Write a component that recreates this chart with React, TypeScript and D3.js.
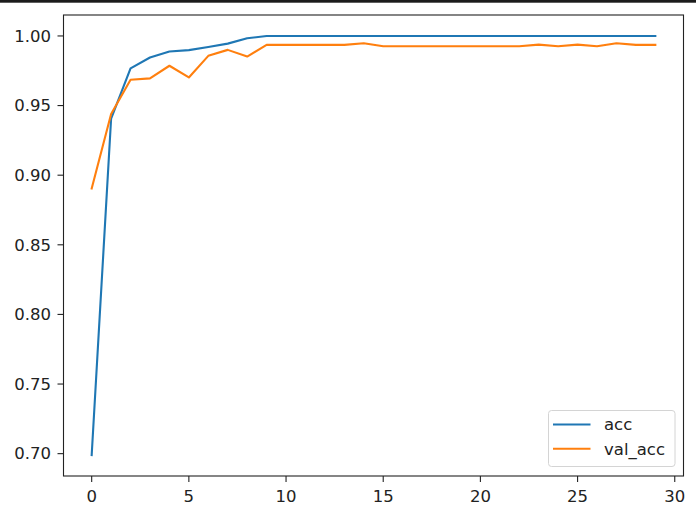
import React from "react";
import * as d3 from "d3";

const epochs: number[] = d3.range(30);
const acc: number[] = [
  0.699, 0.9407, 0.9767, 0.9845, 0.9888, 0.9898, 0.9921, 0.9945, 0.9983, 1.0,
  1.0, 1.0, 1.0, 1.0, 1.0, 1.0, 1.0, 1.0, 1.0, 1.0,
  1.0, 1.0, 1.0, 1.0, 1.0, 1.0, 1.0, 1.0, 1.0, 1.0,
];
const valAcc: number[] = [
  0.8905, 0.944, 0.9686, 0.9695, 0.9786, 0.9702, 0.9857, 0.990, 0.9852, 0.9936,
  0.9936, 0.9936, 0.9936, 0.9936, 0.9948, 0.9926, 0.9926, 0.9926, 0.9926, 0.9926,
  0.9926, 0.9926, 0.9926, 0.9938, 0.9926, 0.9938, 0.9926, 0.9948, 0.9936, 0.9936,
];
const xTicks: number[] = [0, 5, 10, 15, 20, 25, 30];
const yTicks: number[] = [0.7, 0.75, 0.8, 0.85, 0.9, 0.95, 1.0];
const seriesNames: string[] = ["acc", "val_acc"];
const colors: string[] = ["#1f77b4", "#ff7f0e"];

const W = 696;
const H = 518;
const left = 63.5;
const right = 683.5;
const top = 15;
const bottom = 476;
const FONT = "DejaVu Sans, sans-serif";
const FS = 16.5;

export default function App() {
  const x = d3.scaleLinear().domain([-1.45, 30.45]).range([left, right]);
  const yMin = 0.699, yMax = 1.0;
  const pad = (yMax - yMin) * 0.05;
  const y = d3.scaleLinear().domain([yMin - pad, yMax + pad]).range([bottom, top]);
  const line = d3
    .line<number>()
    .x((_, i) => x(epochs[i]))
    .y((d) => y(d));
  const series = [acc, valAcc];
  const lx = 548.5, ly = 410.5, lw = 126.5, lh = 56;

  return (
    <svg
      width={W}
      height={H}
      style={{ position: "absolute", left: 0, top: 0, background: "#fff" }}
      fontFamily={FONT}
    >
      <rect x={0} y={0} width={W} height={H} fill="#fff" />
      <rect x={0} y={0} width={W} height={2.7} fill="#1b1b1b" />
      {series.map((s, k) => (
        <path
          key={k}
          d={line(s) || ""}
          fill="none"
          stroke={colors[k]}
          strokeWidth={2.1}
          strokeLinejoin="round"
          strokeLinecap="square"
        />
      ))}
      <rect
        x={left}
        y={top}
        width={right - left}
        height={bottom - top}
        fill="none"
        stroke="#222"
        strokeWidth={1.1}
      />
      {xTicks.map((t) => (
        <g key={t} transform={`translate(${x(t)},${bottom})`}>
          <line y1={0} y2={6} stroke="#222" strokeWidth={1.1} />
          <text y={26} textAnchor="middle" fontSize={FS} fill="#222">
            {t}
          </text>
        </g>
      ))}
      {yTicks.map((t) => (
        <g key={t} transform={`translate(${left},${y(t)})`}>
          <line x1={0} x2={-6} stroke="#222" strokeWidth={1.1} />
          <text x={-12.5} dy="0.35em" textAnchor="end" fontSize={FS} fill="#222">
            {t.toFixed(2)}
          </text>
        </g>
      ))}
      <rect
        x={lx}
        y={ly}
        width={lw}
        height={lh}
        rx={3}
        fill="#fff"
        fillOpacity={0.8}
        stroke="#d4d4d4"
        strokeWidth={1}
      />
      {seriesNames.map((n, k) => (
        <g key={n} transform={`translate(${lx},${ly + 14 + k * 24.3})`}>
          <line x1={4.5} x2={42} stroke={colors[k]} strokeWidth={2.1} />
          <text x={55.5} dy="0.35em" fontSize={FS} fill="#222">
            {n}
          </text>
        </g>
      ))}
    </svg>
  );
}
